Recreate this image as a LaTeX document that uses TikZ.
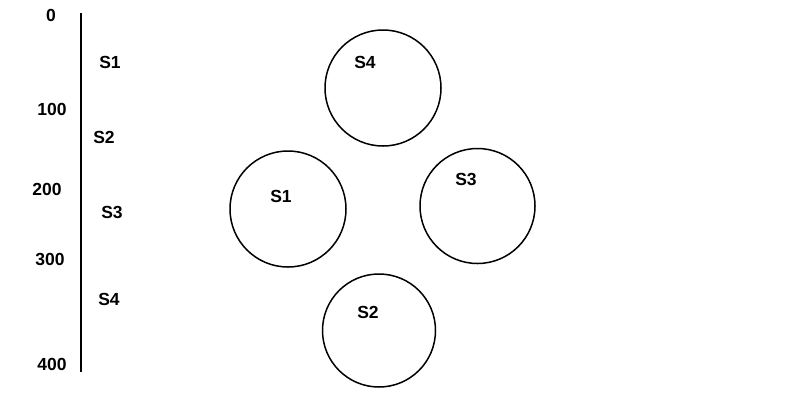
\documentclass[tikz,border=0pt]{standalone}
\usepackage{fontspec}
\setmainfont{Liberation Sans}
\tikzset{
sec/.style={circle,draw=black,line width=1.5pt,
minimum size=116pt,inner sep=0pt},
lbl/.style={font=\bfseries\fontsize{17.5}{20}\selectfont,inner sep=0pt}
}
\begin{document}
\begin{tikzpicture}[x=1pt,y=-1pt]
\useasboundingbox (0,0) rectangle (800,400);

% time axis
\coordinate (T0) at (81,13);
\coordinate (T4) at (81,372);
\draw[line width=1.5pt] (T0) -- (T4);

\node[lbl] (L0) at (51,15){0};
\node[lbl] (L100) at (52,109){100};
\node[lbl] (L200) at (47,189){200};
\node[lbl] (L300) at (50,259){300};
\node[lbl] (L400) at (52,364){400};

\node[lbl] (A1) at (110,62){S1};
\node[lbl] (A2) at (104,137){S2};
\node[lbl] (A3) at (112,212){S3};
\node[lbl] (A4) at (109,299){S4};

% sections
\node[sec] (S4) at (383,88){};
\node[sec] (S1) at (288,209){};
\node[sec,minimum size=115pt] (S3) at (477.5,206){};
\node[sec,minimum size=113pt] (S2) at (379,330.5){};

\node[lbl] (N4) at (365,62){S4};
\node[lbl] (N1) at (281,196){S1};
\node[lbl] (N3) at (466,179){S3};
\node[lbl] (N2) at (368,312){S2};
\end{tikzpicture}
\end{document}
